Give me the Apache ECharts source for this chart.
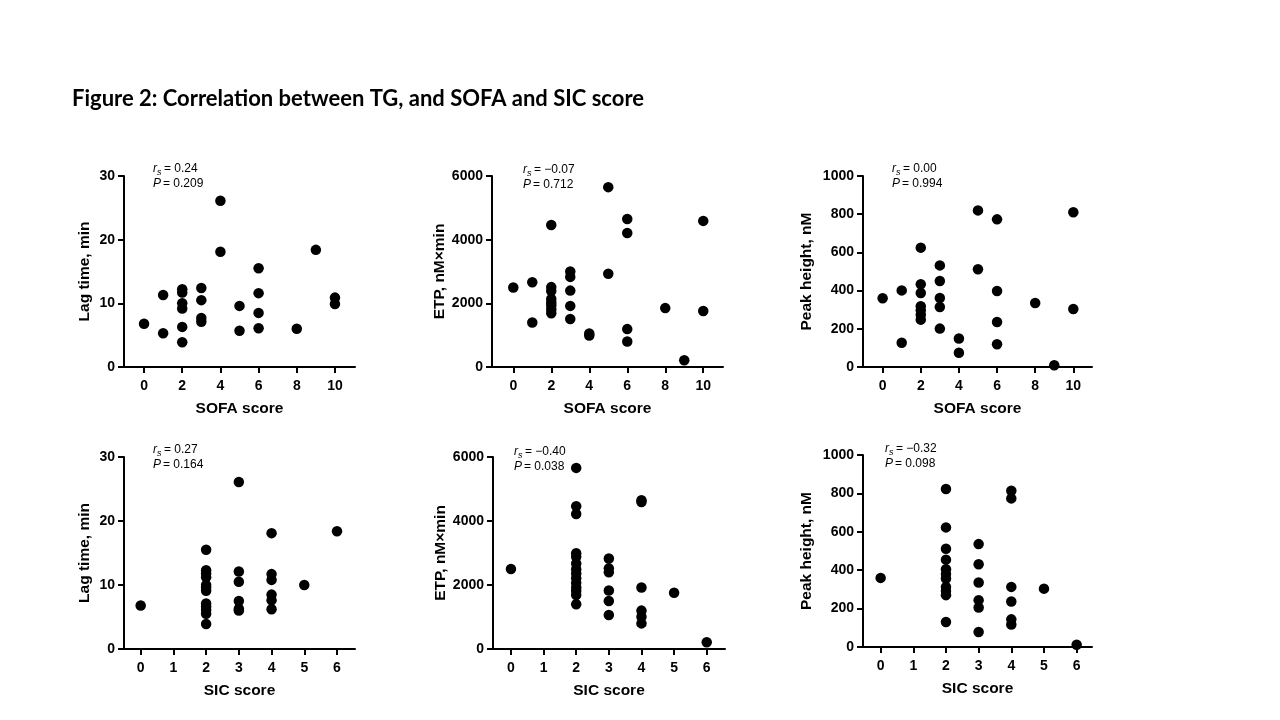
<!DOCTYPE html>
<html>
<head>
<meta charset="utf-8">
<script src="https://cdn.jsdelivr.net/npm/echarts@6/dist/echarts.min.js"></script>
<style>
html,body{margin:0;padding:0;background:#fff;}
#chart{width:1280px;height:720px;}
</style>
</head>
<body>
<div id="chart"></div>
<script>
// ---------- DATA ----------
const titleText = "Figure 2: Correlation between TG, and SOFA and SIC score";

const sofaTicks = [0, 2, 4, 6, 8, 10];
const sicTicks = [0, 1, 2, 3, 4, 5, 6];
const lagTicks = [0, 10, 20, 30];
const etpTicks = [0, 2000, 4000, 6000];
const peakTicks = [0, 200, 400, 600, 800, 1000];

// Lag time vs SOFA
const lagSofaX = [0, 1, 1, 2, 2, 2, 2, 2, 2, 3, 3, 3, 3, 4, 4, 5, 5, 6, 6, 6, 6, 8, 9, 10, 10];
const lagSofaY = [6.8, 11.3, 5.3, 12.2, 11.7, 10.0, 9.2, 6.3, 3.9, 12.4, 10.5, 7.7, 7.1, 26.1, 18.1, 9.6, 5.7, 15.5, 11.6, 8.5, 6.1, 6.0, 18.4, 10.9, 9.9];

// ETP vs SOFA
const etpSofaX = [0, 1, 1, 2, 2, 2, 2, 2, 2, 2, 2, 3, 3, 3, 3, 3, 4, 4, 5, 5, 6, 6, 6, 6, 8, 9, 10, 10];
const etpSofaY = [2500, 2660, 1400, 4460, 2510, 2390, 2140, 2030, 1930, 1810, 1690, 3000, 2830, 2400, 1920, 1510, 1050, 990, 5650, 2930, 4650, 4210, 1190, 800, 1850, 210, 4590, 1760];

// Peak height vs SOFA
const peakSofaX = [0, 1, 1, 2, 2, 2, 2, 2, 2, 2, 3, 3, 3, 3, 3, 4, 4, 5, 5, 6, 6, 6, 6, 8, 9, 10, 10];
const peakSofaY = [360, 401, 127, 625, 433, 387, 318, 297, 274, 248, 532, 450, 361, 314, 201, 149, 75, 820, 512, 773, 398, 236, 119, 335, 9, 810, 304];

// Lag time vs SIC
const lagSicX = [0, 2, 2, 2, 2, 2, 2, 2, 2, 2, 2, 2, 2, 3, 3, 3, 3, 3, 3, 4, 4, 4, 4, 4, 4, 5, 6];
const lagSicY = [6.8, 15.5, 12.3, 11.8, 11.2, 10.0, 9.6, 9.1, 7.1, 6.6, 6.1, 5.5, 3.9, 26.1, 12.1, 10.5, 7.5, 6.3, 6.0, 18.1, 11.7, 10.8, 8.5, 7.6, 6.2, 10.0, 18.4];

// ETP vs SIC
const etpSicX = [0, 2, 2, 2, 2, 2, 2, 2, 2, 2, 2, 2, 2, 2, 2, 3, 3, 3, 3, 3, 3, 4, 4, 4, 4, 4, 4, 5, 6];
const etpSicY = [2500, 5660, 4460, 4220, 2990, 2880, 2670, 2490, 2360, 2210, 2060, 1920, 1810, 1690, 1400, 2830, 2520, 2400, 1830, 1500, 1060, 4650, 4590, 1920, 1200, 1010, 800, 1760, 210];

// Peak height vs SIC
const peakSicX = [0, 2, 2, 2, 2, 2, 2, 2, 2, 2, 2, 2, 3, 3, 3, 3, 3, 3, 4, 4, 4, 4, 4, 4, 5, 6];
const peakSicY = [360, 823, 623, 512, 455, 405, 380, 357, 313, 292, 270, 130, 536, 431, 336, 244, 206, 78, 814, 774, 313, 237, 144, 117, 304, 12];

// Correlation annotations
const rsLabels = ["0.24", "\u22120.07", "0.00", "0.27", "\u22120.40", "\u22120.32"];
const pLabels = ["0.209", "0.712", "0.994", "0.164", "0.038", "0.098"];

// ---------- LAYOUT ----------
const panels = [
  {x: lagSofaX, y: lagSofaY, xName: "SOFA score", yName: "Lag time, min", xTicks: sofaTicks, yTicks: lagTicks,
   grid: {left: 124, top: 176, width: 231, height: 191}, xMin: -1.05, xMax: 11.05, yGap: 31, ann: [153, 170]},
  {x: etpSofaX, y: etpSofaY, xName: "SOFA score", yName: "ETP, nM\u00d7min", xTicks: sofaTicks, yTicks: etpTicks,
   grid: {left: 492, top: 176, width: 231, height: 191}, xMin: -1.12, xMax: 11.04, yGap: 31, ann: [523, 171]},
  {x: peakSofaX, y: peakSofaY, xName: "SOFA score", yName: "Peak height, nM", xTicks: sofaTicks, yTicks: peakTicks,
   grid: {left: 863, top: 176, width: 229, height: 191}, xMin: -1.03, xMax: 10.98, yGap: 48, ann: [892, 170]},
  {x: lagSicX, y: lagSicY, xName: "SIC score", yName: "Lag time, min", xTicks: sicTicks, yTicks: lagTicks,
   grid: {left: 124, top: 457, width: 231, height: 192}, xMin: -0.51, xMax: 6.55, yGap: 31, ann: [153, 451]},
  {x: etpSicX, y: etpSicY, xName: "SIC score", yName: "ETP, nM\u00d7min", xTicks: sicTicks, yTicks: etpTicks,
   grid: {left: 493, top: 457, width: 232, height: 192}, xMin: -0.55, xMax: 6.56, yGap: 31, ann: [514, 453]},
  {x: peakSicX, y: peakSicY, xName: "SIC score", yName: "Peak height, nM", xTicks: sicTicks, yTicks: peakTicks,
   grid: {left: 863, top: 455, width: 229, height: 192}, xMin: -0.54, xMax: 6.47, yGap: 48, ann: [885, 450]}
];

const FONT = "Liberation Sans, Arial, sans-serif";
const axisLineStyle = {show: true, onZero: false, lineStyle: {color: "#000", width: 2}};
const tickStyle = {show: true, length: 6, inside: false, lineStyle: {color: "#000", width: 2}};

const grids = [], xAxes = [], yAxes = [], series = [], graphics = [];

panels.forEach((p, i) => {
  grids.push(Object.assign({containLabel: false}, p.grid));
  xAxes.push({
    type: "value", gridIndex: i, min: p.xMin, max: p.xMax,
    name: p.xName, nameLocation: "middle", nameGap: 34,
    nameTextStyle: {fontFamily: FONT, fontWeight: "bold", fontSize: 15.5, color: "#000"},
    axisLine: axisLineStyle,
    axisTick: Object.assign({customValues: p.xTicks}, tickStyle),
    axisLabel: {customValues: p.xTicks, fontFamily: FONT, fontWeight: "bold", fontSize: 14, color: "#000", margin: 12,
                formatter: v => String(v)},
    splitLine: {show: false}
  });
  const yMax = p.yTicks[p.yTicks.length - 1];
  yAxes.push({
    type: "value", gridIndex: i, min: 0, max: yMax, interval: p.yTicks[1] - p.yTicks[0],
    name: p.yName, nameLocation: "middle", nameGap: p.yGap, nameRotate: 90,
    nameTextStyle: {fontFamily: FONT, fontWeight: "bold", fontSize: 15.5, color: "#000"},
    axisLine: axisLineStyle,
    axisTick: tickStyle,
    axisLabel: {fontFamily: FONT, fontWeight: "bold", fontSize: 14, color: "#000", margin: 9,
                formatter: v => String(v)},
    splitLine: {show: false}
  });
  series.push({
    type: "scatter", xAxisIndex: i, yAxisIndex: i,
    data: p.x.map((v, k) => [v, p.y[k]]),
    symbol: "circle", symbolSize: 10.5,
    itemStyle: {color: "#000", opacity: 1},
    emphasis: {disabled: true}
  });
  const ax = p.ann[0], ay = p.ann[1];
  const base = {fontFamily: FONT, fontSize: 12, fill: "#000"};
  graphics.push(
    {type: "text", left: ax, top: ay - 7, style: Object.assign({}, base, {text: "r", fontStyle: "italic"})},
    {type: "text", left: ax + 4, top: ay - 2, style: Object.assign({}, base, {text: "s", fontStyle: "italic", fontSize: 9})},
    {type: "text", left: ax + 11, top: ay - 7, style: Object.assign({}, base, {text: "= " + rsLabels[i]})},
    {type: "text", left: ax, top: ay + 8, style: Object.assign({}, base, {text: "P", fontStyle: "italic"})},
    {type: "text", left: ax + 10, top: ay + 8, style: Object.assign({}, base, {text: "= " + pLabels[i]})}
  );
});

graphics.push({
  type: "text", left: 72, top: 88,
  style: {text: titleText, fontFamily: "Lato, Carlito, Calibri, sans-serif", fontWeight: "bold", fontSize: 22, fill: "#000"}
});

const chart = echarts.init(document.getElementById("chart"), null, {renderer: "canvas"});
chart.setOption({
  backgroundColor: "#fff",
  animation: false,
  grid: grids,
  xAxis: xAxes,
  yAxis: yAxes,
  series: series,
  graphic: graphics
});
</script>
</body>
</html>
